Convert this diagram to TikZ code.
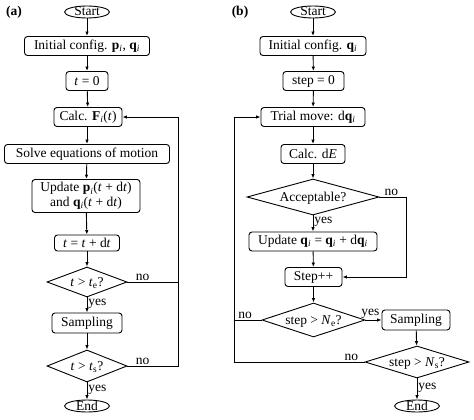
\documentclass[tikz,border=0pt]{standalone}
\usepackage{fontspec}
\setmainfont{Liberation Serif}
\usepackage{tikz}
\usetikzlibrary{positioning,shapes.geometric,arrows.meta}

\newcommand{\vb}[2]{\textbf{#1}\textsubscript{\textit{#2}}}

\begin{document}
\begin{tikzpicture}[x=1pt,y=-1pt,
font=\fontsize{13.5}{14.5}\selectfont,
line width=0.9pt,
box/.style={draw,rectangle,rounded corners=3pt,minimum height=19pt,inner xsep=3pt,inner ysep=2pt,align=center},
term/.style={draw,ellipse,minimum width=45pt,minimum height=12pt,inner sep=0pt,text height=8pt,text depth=0pt},
dec/.style={draw,diamond,inner sep=0pt,text height=8pt,text depth=0pt},
arr/.style={-{Latex[length=4.5pt,width=3.5pt]}},
lab/.style={inner sep=1pt}]
\useasboundingbox (0,0) rectangle (474,420);

% (a) molecular dynamics
\node (taga) at (14,12) {\textbf{(a)}};
\node (starta) [term] at (87,12) {Start};
\node (inita) [box,minimum width=125pt] at (87,46) {Initial config. \vb{p}{i}, \vb{q}{i}};
\node (tzero) [box,minimum width=42pt] at (87,81) {\textit{t} = 0};
\node (calcf) [box,minimum width=68pt] at (88,117) {Calc. \vb{F}{i}(\textit{t})};
\node (solve) [box,minimum width=165pt] at (87,154) {Solve equations of motion};
\node (upd) [box,minimum width=108pt,minimum height=33pt,inner ysep=1pt] at (86,196)
    {Update \vb{p}{i}(\textit{t} + d\textit{t})\\ and \vb{q}{i}(\textit{t} + d\textit{t})};
\node (tinc) [box,minimum width=65pt,minimum height=16pt] at (87,243) {\textit{t} = \textit{t} + d\textit{t}};
\node (dte) [dec,minimum width=80pt,minimum height=30pt,shape aspect=2.6] at (87,282) {\textit{t} > \textit{t}\textsubscript{e}?};
\node (sampa) [box,minimum width=70pt,minimum height=20pt] at (87,323) {Sampling};
\node (dts) [dec,minimum width=80pt,minimum height=32pt,shape aspect=2.5] at (87,366) {\textit{t} > \textit{t}\textsubscript{s}?};
\node (enda) [term] at (87,406) {End};
\coordinate (loopa) at (178,0);

\draw[arr] (starta) -- (inita);
\draw[arr] (inita) -- (tzero);
\draw[arr] (tzero) -- (calcf);
\draw[arr] (calcf.south -| solve.north) -- (solve);
\draw[arr] (solve) -- (upd);
\draw[arr] (upd) -- (tinc);
\draw[arr] (tinc) -- (dte);
\draw[arr] (dte) -- node[lab,right,pos=0.45] {yes} (sampa);
\draw[arr] (sampa) -- (dts);
\draw[arr] (dts) -- node[lab,right,pos=0.45] {yes} (enda);
\draw (dte.east) -- node[lab,above,pos=0.3] {no} (dte.east -| loopa);
\draw[arr] (dts.east) -- node[lab,above,pos=0.3] {no} (dts.east -| loopa) -- (loopa |- calcf.east) -- (calcf.east);

% (b) Monte Carlo
\node (tagb) at (240,12) {\textbf{(b)}};
\node (startb) [term] at (313,12) {Start};
\node (initb) [box,minimum width=106pt] at (313,46) {Initial config. \vb{q}{i}};
\node (szero) [box,minimum width=61pt] at (313.5,81) {step = 0};
\node (trial) [box,minimum width=104pt] at (313,117) {Trial move: d\textbf{q}\textsubscript{\textit{i}}};
\node (calce) [box,minimum width=64pt] at (313,154) {Calc. d\textit{E}};
\node (acc) [dec,minimum width=132pt,minimum height=36pt,shape aspect=3.6] at (313,197) {Acceptable?};
\node (updq) [box,minimum width=128pt] at (313,241.5) {Update \vb{q}{i} = \vb{q}{i} + d\vb{q}{i}};
\node (stepp) [box,minimum width=57pt] at (313.5,277) {Step++};
\node (dne) [dec,minimum width=103pt,minimum height=34pt,shape aspect=3] at (313.5,320) {step > \textit{N}\textsubscript{e}?};
\node (sampb) [box,minimum width=68pt,minimum height=20pt] at (416,320) {Sampling};
\node (dns) [dec,minimum width=104pt,minimum height=32pt,shape aspect=3.2] at (417,362) {step > \textit{N}\textsubscript{s}?};
\node (endb) [term] at (417,406) {End};
\coordinate (loopb) at (234,0);
\coordinate (skipb) at (406,0);

\draw[arr] (startb) -- (initb);
\draw[arr] (initb) -- (szero);
\draw[arr] (szero) -- (trial);
\draw[arr] (trial) -- (calce);
\draw[arr] (calce) -- (acc);
\draw[arr] (acc) -- node[lab,right,pos=0.4] {yes} (updq);
\draw[arr] (updq) -- (stepp);
\draw[arr] (acc.east) -- node[lab,above,pos=0.45] {no} (acc.east -| skipb) -- (skipb |- stepp.east) -- (stepp.east);
\draw[arr] (stepp) -- (dne);
\draw[arr] (dne.east) -- node[lab,above,pos=0.3] {yes} (sampb.west);
\draw[arr] (sampb) -- (dns);
\draw[arr] (dns) -- node[lab,right,pos=0.45] {yes} (endb);
\draw (dne.west) -- node[lab,above,pos=0.6] {no} (dne.west -| loopb);
\draw[arr] (dns.west) -- node[lab,above,pos=0.1] {no} (dns.west -| loopb) -- (loopb |- trial.west) -- (trial.west);
\end{tikzpicture}
\end{document}
